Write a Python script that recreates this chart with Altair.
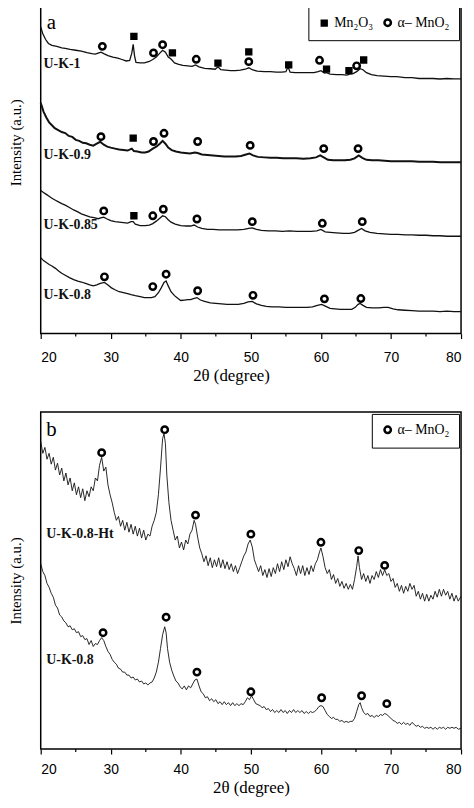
import altair as alt
import pandas as pd

# ---------------- Panel (a) data: 2θ (degree) and intensity (a.u.) ----------------
uk1_x = [20.0, 20.3, 20.7, 21.1, 21.6, 22.3, 23.0, 23.5, 24.2, 25.0, 25.8, 26.6, 27.3, 27.8, 28.2, 28.6,
         29.0, 29.6, 30.3, 31.0, 31.6, 32.2, 32.7, 33.0, 33.2, 33.4, 33.6, 34.2, 34.8, 35.5, 36.0, 36.5,
         37.0, 37.4, 37.8, 38.2, 38.6, 39.1, 39.7, 40.3, 41.0, 41.6, 42.1, 42.6, 43.4, 44.2, 44.9, 45.3,
         45.7, 46.4, 47.1, 47.8, 48.5, 49.2, 49.7, 50.2, 50.9, 51.9, 52.8, 53.6, 54.4, 55.0, 55.3, 55.6,
         56.3, 57.2, 58.1, 59.0, 59.6, 60.0, 60.5, 60.8, 61.3, 62.2, 63.0, 63.7, 64.1, 64.6, 65.1, 65.6,
         66.0, 66.5, 67.2, 68.0, 69.0, 70.0, 70.8, 72.0, 73.0, 74.0, 75.0, 76.0, 77.0, 78.0, 79.0, 80.0]
uk1_y = [315, 308, 302, 298, 296, 295, 293.5, 293, 292, 291, 290, 288.5, 287.5, 287, 288, 289,
         287.5, 285.5, 284, 283, 281.5, 280, 280.5, 288, 297, 285, 278.5, 278, 278, 279.5, 281.5, 284,
         288, 291, 289, 284, 282, 278, 276.5, 275.5, 275, 274.5, 276, 274, 272.5, 272, 271.5, 274,
         271, 270.5, 270, 270, 270.5, 271.5, 273, 271, 269.5, 269, 269, 268.5, 268.5, 269, 274, 268.5,
         268, 268, 268, 268, 269, 270, 267.5, 268, 266.5, 266, 266, 265.5, 266.5, 267, 269, 272,
         271, 268, 266, 265, 264.5, 264, 264, 263, 263, 262, 262, 262, 261.5, 262, 261.5, 261.5]

uk09_x = [20.0, 20.4, 20.8, 21.2, 21.6, 22.0, 22.5, 23.0, 23.5, 24.0, 24.5, 25.0, 25.5, 26.0, 26.5,
          27.0, 27.5, 28.0, 28.5, 29.0, 29.5, 30.0, 30.6, 31.2, 31.8, 32.4, 33.0, 33.3, 33.8, 34.4,
          34.9, 35.4, 36.0, 36.5, 37.0, 37.4, 37.8, 38.2, 38.7, 39.3, 40.0, 40.6, 41.3, 42.0, 42.4,
          43.0, 43.8, 44.6, 45.4, 46.2, 47.0, 47.8, 48.6, 49.3, 49.8, 50.3, 51.0, 51.9, 52.8, 53.7,
          54.6, 55.5, 56.5, 57.5, 58.5, 59.3, 59.9, 60.4, 61.0, 61.8, 62.6, 63.4, 64.2, 64.8, 65.4,
          65.9, 66.5, 67.3, 68.2, 69.1, 70.0, 71.0, 72.0, 73.0, 74.0, 75.0, 76.0, 77.0, 78.0, 79.0, 80.0]
uk09_y = [237, 228, 222, 217, 214, 211, 209, 207, 206, 203, 202, 199, 198, 196, 195.5,
          194, 193, 195, 197, 194, 192, 191, 190, 189, 188.5, 188, 190, 187.5, 187, 186,
          186, 187, 190, 192, 195, 198, 195, 191, 188.5, 187, 186, 185.5, 185, 186, 185.5,
          184, 183.5, 183, 182.5, 182, 182, 182, 182.5, 184, 185, 183, 181.5, 181, 180.5, 180.5,
          180, 180, 180, 179.5, 180, 181, 183, 181, 178.5, 178, 178, 178, 178.5, 180, 183,
          180.5, 178.5, 178, 178, 177.5, 177, 177, 177, 177, 176.5, 176.5, 176.5, 176, 176, 176, 176]

uk085_x = [20.0, 20.4, 20.8, 21.2, 21.6, 22.1, 22.6, 23.0, 23.5, 24.1, 24.7, 25.3, 25.8, 26.4, 27.0,
           27.6, 28.2, 28.7, 29.0, 29.4, 30.0, 30.6, 31.2, 31.8, 32.4, 32.9, 33.2, 33.5, 34.2, 34.9,
           35.5, 36.0, 36.5, 37.0, 37.4, 37.8, 38.2, 38.6, 39.2, 40.0, 40.8, 41.4, 41.9, 42.4, 43.0,
           43.8, 44.6, 45.5, 46.4, 47.2, 48.1, 49.0, 49.7, 50.2, 50.8, 51.5, 52.5, 53.5, 54.5, 55.5,
           56.6, 57.6, 58.6, 59.4, 60.0, 60.6, 61.3, 62.2, 63.2, 64.1, 64.8, 65.3, 65.8, 66.3, 67.0,
           68.0, 69.0, 70.0, 71.0, 72.0, 73.0, 74.0, 75.0, 76.0, 77.0, 78.0, 79.0, 80.0]
uk085_y = [147, 145, 143, 141, 139, 137, 135, 133.5, 132, 129.5, 127, 125, 123, 121.5, 120,
           119, 118, 119, 119.5, 118, 116, 115, 114.5, 114, 113.5, 115, 115, 112.5, 111, 111,
           111.5, 113, 115.5, 118.5, 121, 120, 117, 114.5, 112.5, 111, 110.5, 110.5, 111.5, 109.5, 108,
           107, 107, 106.5, 106.5, 106.5, 106.5, 107, 108, 108.5, 107, 106, 105.5, 105.5, 105, 105.5,
           105, 105, 105, 105.5, 107, 104.5, 104, 103.5, 103, 103, 104, 106, 108, 105.5, 104,
           103, 102.5, 102, 102, 101.5, 101.5, 101, 101, 100.5, 100.5, 100, 100, 100]

uk08_x = [20.0, 20.4, 20.8, 21.2, 21.6, 22.1, 22.6, 23.0, 23.5, 24.1, 24.7, 25.3, 25.8, 26.4, 27.0,
          27.5, 28.0, 28.5, 29.1, 29.6, 30.1, 30.6, 31.2, 31.8, 32.4, 32.9, 33.5, 34.2, 34.8, 35.3,
          35.8, 36.3, 36.8, 37.2, 37.6, 37.9, 38.2, 38.6, 39.1, 39.6, 40.0, 40.5, 41.0, 41.4, 41.8,
          42.3, 42.8, 43.4, 44.2, 45.0, 45.8, 46.6, 47.4, 48.2, 49.0, 49.6, 50.2, 50.8, 51.5, 52.2,
          53.0, 54.0, 55.0, 56.0, 57.0, 58.0, 58.8, 59.5, 60.1, 60.7, 61.3, 62.0, 62.8, 63.6, 64.4,
          64.9, 65.3, 65.6, 66.0, 66.5, 67.3, 68.2, 69.0, 69.6, 70.3, 71.0, 72.0, 73.0, 74.0, 75.0,
          76.0, 77.0, 78.0, 79.0, 80.0]
uk08_y = [78, 75, 73, 71, 69.5, 67, 64, 62, 60, 57.5, 55.5, 54, 53, 51.5, 50,
          49, 50, 51.5, 52.5, 50, 47, 45, 43, 42, 41, 40, 39, 38, 37, 37,
          37, 38, 42, 47, 52.5, 54, 49, 43, 39, 36, 34, 34.5, 35, 35, 36,
          37, 34.5, 33, 31.5, 31, 30.5, 30, 30, 30, 31, 32.5, 33, 30.5, 29, 28,
          27.5, 27.5, 27, 27, 27, 27, 27.5, 29, 30, 28, 26, 25.5, 25, 25, 25,
          27, 30, 31, 29, 27, 26.5, 26.5, 27, 27, 25.5, 24.5, 24, 23.5, 23, 23,
          23, 22.5, 23, 22.5, 22.5]

# Phase markers, panel (a)
a_mark_x = [28.8, 36.1, 37.4, 42.2, 49.7, 59.8, 65.1,
            33.3, 38.8, 45.3, 49.7, 55.4, 60.8, 64.0, 66.1,
            28.6, 36.1, 37.6, 42.4, 49.9, 60.4, 65.3, 33.2,
            29.0, 36.0, 37.5, 42.3, 50.2, 60.2, 65.9, 33.3,
            29.1, 36.0, 37.9, 42.4, 50.3, 60.5, 65.7]
a_mark_y = [295, 288.3, 296.7, 281.7, 279.3, 280.7, 275,
            305.3, 288.3, 277.7, 289.3, 276, 271.7, 270, 281,
            202.3, 197.3, 205.7, 197.3, 193.3, 190, 190, 200.7,
            126, 121, 127.7, 117.7, 115, 113.3, 115, 121,
            58.3, 48.3, 61, 44, 39.3, 35.7, 36]
a_mark_phase = ["α– MnO₂"] * 7 + ["Mn₂O₃"] * 8 + ["α– MnO₂"] * 7 + ["Mn₂O₃"] + \
               ["α– MnO₂"] * 7 + ["Mn₂O₃"] + ["α– MnO₂"] * 7

a_labels = ["U-K-1", "U-K-0.9", "U-K-0.85", "U-K-0.8"]
a_label_x = [20.4, 20.4, 20.4, 20.4]
a_label_y = [273, 179, 107, 36]

# ---------------- Panel (b) data ----------------
ht_x = [20.0, 20.3, 20.6, 20.9, 21.2, 21.5, 21.8, 22.1, 22.4, 22.7, 23.0, 23.3, 23.6, 23.9, 24.2, 24.5,
        24.8, 25.1, 25.4, 25.7, 26.0, 26.3, 26.6, 26.9, 27.2, 27.5, 27.8, 28.1, 28.4, 28.7, 29.0, 29.3,
        29.6, 29.9, 30.2, 30.5, 30.8, 31.1, 31.4, 31.7, 32.0, 32.3, 32.6, 32.9, 33.2, 33.5, 33.8, 34.1,
        34.4, 34.7, 35.0, 35.3, 35.6, 35.9, 36.2, 36.5, 36.8, 37.1, 37.4, 37.6, 37.8, 38.0, 38.3, 38.6,
        38.9, 39.2, 39.5, 39.8, 40.1, 40.4, 40.7, 41.0, 41.3, 41.6, 41.9, 42.1, 42.4, 42.7, 43.0, 43.3,
        43.6, 43.9, 44.2, 44.5, 44.8, 45.1, 45.4, 45.7, 46.0, 46.3, 46.6, 46.9, 47.2, 47.5, 47.8, 48.1,
        48.4, 48.7, 49.0, 49.3, 49.6, 49.9, 50.2, 50.5, 50.8, 51.1, 51.4, 51.7, 52.0, 52.3, 52.6, 52.9,
        53.2, 53.5, 53.8, 54.1, 54.4, 54.7, 55.0, 55.3, 55.6, 55.9, 56.2, 56.5, 56.8, 57.1, 57.4, 57.7,
        58.0, 58.3, 58.6, 58.9, 59.2, 59.5, 59.8, 60.0, 60.3, 60.6, 60.9, 61.2, 61.5, 61.8, 62.1, 62.4,
        62.7, 63.0, 63.3, 63.6, 63.9, 64.2, 64.5, 64.8, 65.1, 65.3, 65.5, 65.8, 66.1, 66.4, 66.7, 67.0,
        67.3, 67.6, 67.9, 68.2, 68.5, 68.8, 69.1, 69.4, 69.7, 70.0, 70.3, 70.6, 70.9, 71.2, 71.5, 71.8,
        72.1, 72.4, 72.7, 73.0, 73.3, 73.6, 73.9, 74.2, 74.5, 74.8, 75.1, 75.4, 75.7, 76.0, 76.3, 76.6,
        76.9, 77.2, 77.5, 77.8, 78.1, 78.4, 78.7, 79.0, 79.3, 79.6, 80.0]
ht_y = [312, 300, 306, 294, 300, 289, 296, 283, 290, 278, 285, 272, 280, 268, 275, 262,
        270, 258, 266, 255, 264, 252, 262, 256, 266, 262, 275, 272, 288, 296, 282, 286,
        268, 258, 250, 240, 232, 236, 226, 232, 222, 230, 220, 228, 218, 226, 216, 224,
        214, 222, 212, 218, 216, 226, 232, 240, 258, 285, 315, 320, 310, 278, 250, 232,
        222, 212, 216, 204, 210, 202, 212, 208, 218, 222, 232, 228, 215, 204, 198, 190,
        196, 186, 194, 184, 192, 185, 194, 184, 192, 183, 190, 182, 188, 180, 186, 178,
        184, 190, 196, 200, 208, 212, 205, 192, 186, 180, 186, 176, 182, 174, 183, 175,
        184, 178, 188, 180, 190, 182, 192, 185, 195, 188, 183, 176, 186, 178, 186, 176,
        184, 177, 186, 180, 188, 192, 200, 204, 195, 184, 178, 182, 172, 177, 168, 173,
        165, 170, 163, 168, 162, 167, 162, 172, 185, 196, 184, 172, 178, 170, 176, 168,
        176, 172, 180, 174, 182, 176, 182, 176, 178, 170, 173, 164, 168, 160, 166, 158,
        165, 160, 168, 162, 166, 155, 160, 152, 158, 150, 157, 150, 156, 152, 160, 154,
        162, 155, 162, 156, 160, 152, 158, 150, 156, 150, 155]

b08_x = [20.0, 20.3, 20.6, 20.9, 21.2, 21.5, 21.8, 22.1, 22.4, 22.7, 23.0, 23.3, 23.6, 23.9, 24.2, 24.5,
         24.8, 25.1, 25.4, 25.7, 26.0, 26.3, 26.6, 26.9, 27.2, 27.5, 27.8, 28.1, 28.4, 28.7, 29.0, 29.3,
         29.6, 29.9, 30.2, 30.5, 30.8, 31.1, 31.4, 31.7, 32.0, 32.3, 32.6, 32.9, 33.2, 33.5, 33.8, 34.1,
         34.4, 34.7, 35.0, 35.3, 35.6, 35.9, 36.2, 36.5, 36.8, 37.1, 37.4, 37.7, 37.9, 38.1, 38.4, 38.7,
         39.0, 39.3, 39.6, 39.9, 40.2, 40.5, 40.8, 41.1, 41.4, 41.7, 42.0, 42.3, 42.6, 42.9, 43.2, 43.5,
         43.8, 44.1, 44.4, 44.7, 45.0, 45.3, 45.6, 45.9, 46.2, 46.5, 46.8, 47.1, 47.4, 47.7, 48.0, 48.3,
         48.6, 48.9, 49.2, 49.5, 49.8, 50.1, 50.4, 50.7, 51.0, 51.3, 51.6, 51.9, 52.2, 52.5, 52.8, 53.1,
         53.4, 53.7, 54.0, 54.3, 54.6, 54.9, 55.2, 55.5, 55.8, 56.1, 56.4, 56.7, 57.0, 57.3, 57.6, 57.9,
         58.2, 58.5, 58.8, 59.1, 59.4, 59.7, 60.0, 60.3, 60.6, 60.9, 61.2, 61.5, 61.8, 62.1, 62.4, 62.7,
         63.0, 63.3, 63.6, 63.9, 64.2, 64.5, 64.8, 65.1, 65.4, 65.6, 65.8, 66.1, 66.4, 66.7, 67.0, 67.3,
         67.6, 67.9, 68.2, 68.5, 68.8, 69.1, 69.4, 69.7, 70.0, 70.3, 70.6, 70.9, 71.2, 71.5, 71.8, 72.1,
         72.4, 72.7, 73.0, 73.3, 73.6, 73.9, 74.2, 74.5, 74.8, 75.1, 75.4, 75.7, 76.0, 76.3, 76.6, 76.9,
         77.2, 77.5, 77.8, 78.1, 78.4, 78.7, 79.0, 79.3, 79.6, 80.0]
b08_y = [188, 180, 176, 168, 164, 158, 154, 146, 143, 136, 134, 130, 128, 124, 125, 121,
         122, 118, 119, 114, 115, 111, 112, 106, 110, 104, 107, 106, 110, 113, 110, 104,
         99, 96, 91, 88, 86, 82, 81, 78, 78, 75, 75, 72, 73, 70, 71, 68,
         69, 66, 67, 65, 67, 68, 72, 78, 88, 102, 116, 124, 118, 102, 88, 80,
         74, 69, 67, 63, 61, 64, 60, 64, 62, 66, 70, 71, 64, 58, 56, 52,
         53, 49, 51, 48, 50, 46, 48, 45, 48, 45, 47, 44, 47, 44, 46, 44,
         46, 45, 48, 52, 50, 54, 50, 46, 45, 44, 42, 43, 40, 41, 38, 40,
         37, 39, 37, 40, 37, 39, 36, 39, 37, 40, 37, 39, 37, 39, 36, 38,
         36, 38, 37, 38, 40, 43, 44, 43, 39, 35, 33, 31, 32, 30, 30, 28,
         29, 27, 28, 27, 28, 28, 31, 38, 45, 47, 42, 37, 35, 36, 33, 34,
         32, 34, 33, 35, 34, 36, 35, 33, 31, 29, 28, 26, 27, 25, 27, 25,
         26, 24, 27, 25, 23, 24, 22, 23, 21, 22, 21, 22, 20, 22, 20, 22,
         21, 22, 20, 22, 21, 22, 21, 22, 20, 21]

b_mark_x = [28.7, 37.7, 42.1, 50.0, 60.0, 65.4, 69.1,
            28.9, 37.9, 42.3, 50.0, 60.1, 65.8, 69.4]
b_mark_y = [300.7, 324, 237.3, 218, 209.7, 201.3, 186.3,
            118, 133.7, 78, 58, 52, 54, 46]
b_mark_phase = ["α– MnO₂"] * 14

b_labels = ["U-K-0.8-Ht", "U-K-0.8"]
b_label_x = [20.8, 20.8]
b_label_y = [214, 86]

x_major = [20, 30, 40, 50, 60, 70, 80]
x_minor = [25, 35, 45, 55, 65, 75]

SERIF = "Liberation Serif"
SANS = "Liberation Sans"


def lines_df(xs, ys, name):
    return pd.DataFrame({"x": xs, "y": ys, "s": name})


def panel(traces, thick, mx, my, mph, phases, labels, lx, ly, letter, letter_xy,
          ymax, W, H, ypad, ytitle_y, xtitle_x, lab_pad):
    xaxis_kw = dict(values=x_major, title="2θ (degree)", tickSize=5,
                    labelPadding=lab_pad, titlePadding=3, format="d")
    if xtitle_x is not None:
        xaxis_kw["titleX"] = xtitle_x
    xenc = alt.X("x:Q", scale=alt.Scale(domain=[20, 80], nice=False, zero=False),
                 axis=alt.Axis(**xaxis_kw))
    yaxis_kw = dict(labels=False, ticks=False, title="Intensity (a.u.)",
                    titlePadding=ypad, titleFontSize=15)
    if ytitle_y is not None:
        yaxis_kw["titleY"] = ytitle_y
    yenc = alt.Y("y:Q", scale=alt.Scale(domain=[0, ymax], nice=False, zero=False),
                 axis=alt.Axis(**yaxis_kw))
    layers = []
    for df, w in zip(traces, thick):
        layers.append(alt.Chart(df).mark_line(color="#111", strokeWidth=w)
                      .encode(x=xenc, y=yenc, detail="s:N"))
    mdf = pd.DataFrame({"x": mx, "y": my, "phase": mph})
    is_sq = [p.startswith("Mn") for p in phases]
    leg = alt.Legend(title=None)
    layers.append(alt.Chart(mdf).mark_point(filled=True, opacity=1)
                  .encode(x=xenc, y=yenc,
                          shape=alt.Shape("phase:N", scale=alt.Scale(
                              domain=phases, range=["square" if s else "circle" for s in is_sq]), legend=leg),
                          fill=alt.Fill("phase:N", scale=alt.Scale(
                              domain=phases, range=["black" if s else "white" for s in is_sq]), legend=leg),
                          stroke=alt.Stroke("phase:N", scale=alt.Scale(
                              domain=phases, range=["black" for s in is_sq]), legend=leg),
                          size=alt.Size("phase:N", scale=alt.Scale(
                              type="ordinal", domain=phases,
                              range=[24 if s else 42 for s in is_sq]), legend=leg),
                          strokeWidth=alt.value(2.5)))
    ldf = pd.DataFrame({"x": lx, "y": ly, "t": labels})
    layers.append(alt.Chart(ldf).mark_text(align="left", baseline="alphabetic", font=SERIF,
                                           fontWeight="bold", fontSize=14, color="#111")
                  .encode(x=xenc, y=yenc, text="t:N"))
    pdf = pd.DataFrame({"x": [letter_xy[0]], "y": [letter_xy[1]], "t": [letter]})
    layers.append(alt.Chart(pdf).mark_text(align="left", baseline="alphabetic", font=SERIF,
                                           fontSize=21, color="black")
                  .encode(x=xenc, y=yenc, text="t:N"))
    tdf = pd.DataFrame({"x": x_minor})
    layers.append(alt.Chart(tdf).mark_rule(color="black", strokeWidth=1.2)
                  .encode(x=xenc, y=alt.value(H), y2=alt.value(H + 3)))
    return alt.layer(*layers).properties(width=W, height=H)


pa = panel([lines_df(uk1_x, uk1_y, "U-K-1"), lines_df(uk09_x, uk09_y, "U-K-0.9"),
            lines_df(uk085_x, uk085_y, "U-K-0.85"), lines_df(uk08_x, uk08_y, "U-K-0.8")],
           [1.3, 2.0, 1.3, 1.3],
           a_mark_x, a_mark_y, a_mark_phase, ["Mn₂O₃", "α– MnO₂"],
           a_labels, a_label_x, a_label_y, "a", (20.85, 313),
           ymax=338, W=424, H=332, ypad=17, ytitle_y=139, xtitle_x=192, lab_pad=12)

pb = panel([lines_df(ht_x, ht_y, "U-K-0.8-Ht"), lines_df(b08_x, b08_y, "U-K-0.8b")],
           [0.9, 0.9],
           b_mark_x, b_mark_y, b_mark_phase, ["α– MnO₂"],
           b_labels, b_label_x, b_label_y, "b", (20.8, 318),
           ymax=342, W=424, H=340, ypad=17, ytitle_y=None, xtitle_x=None, lab_pad=9)

chart = alt.vconcat(pa, pb, spacing=27).resolve_scale(
    shape="independent", fill="independent", stroke="independent", size="independent"
).properties(padding={"top": -8, "left": 0, "right": 0, "bottom": 0}).configure_view(
    stroke="black", strokeWidth=1.5
).configure_axis(
    grid=False, domain=False, labelFont=SANS, labelFontSize=14, labelColor="black",
    titleFont=SERIF, titleFontSize=17, titleFontWeight="normal", titleColor="black",
    tickColor="black", tickWidth=1.2
).configure_legend(
    orient="top-right", offset=2, direction="horizontal", padding=9,
    strokeColor="black", fillColor="white", labelFont=SERIF, labelFontSize=14,
    labelColor="black", symbolStrokeWidth=2.5,
    columnPadding=5, labelOffset=3, symbolOpacity=1
)

chart.save("out.html", embed_options={"renderer": "svg", "actions": False})
